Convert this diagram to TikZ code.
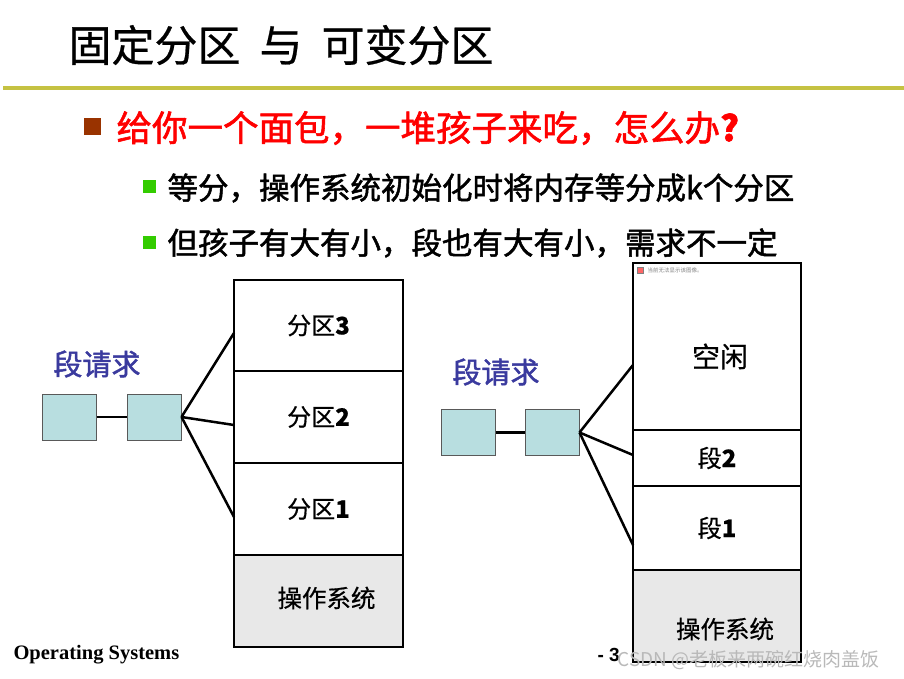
\documentclass[tikz,border=0pt]{standalone}
\usepackage{fontspec}
\setmainfont{Liberation Sans}
\newfontfamily\cjk{Noto Sans CJK SC}
\newfontfamily\cjkb[FakeBold=1.6]{Noto Sans CJK SC}
\newfontfamily\cjkm[FakeBold=0.6]{Noto Sans CJK SC}
\newfontfamily\footserif{Liberation Serif}
\usetikzlibrary{positioning, calc}
\definecolor{titleline}{RGB}{197,194,66}
\definecolor{reqfill}{RGB}{184,222,224}
\definecolor{reqblue}{RGB}{58,58,158}
\definecolor{osgray}{RGB}{232,232,232}
\definecolor{bulletbrown}{RGB}{153,51,0}
\definecolor{bulletgreen}{RGB}{51,204,0}
\tikzset{
  memrow/.style={draw, line width=2.5pt, minimum width=169pt, inner sep=0pt,
    outer sep=0pt, font=\cjkm\fontsize{24}{24}\selectfont},
  osrow/.style={memrow, fill=osgray},
  reqbox/.style={draw=gray!70!black, fill=reqfill, line width=1pt,
    minimum width=54pt, minimum height=46pt, inner sep=0pt},
  link/.style={line width=2.5pt},
}

\begin{document}
\begin{tikzpicture}[x=1pt, y=-1pt]
  \useasboundingbox (0,0) rectangle (904,679);
  % Title and rule
  \node[anchor=west, font=\cjkm\fontsize{43}{43}\selectfont] (title) at (65,45)
    {固定分区\hspace{19pt}与\hspace{19pt}可变分区};
  \draw[titleline, line width=4.5pt] (3,88) -- (904,88);
  % Bullets
  \node[fill=bulletbrown, minimum size=17pt, inner sep=0pt] (b1) at (92.5,126.5) {};
  \node[anchor=west, text=red, font=\cjkb\fontsize{35.5}{36}\selectfont]
    (t1) at (113,128) {给你一个面包，一堆孩子来吃，怎么办\textbf{?}};
  \node[fill=bulletgreen, minimum size=13pt, inner sep=0pt] (b2) at (149.5,186.5) {};
  \node[anchor=west, font=\cjkb\fontsize{30.5}{31}\selectfont]
    (t2) at (164,188) {等分，操作系统初始化时将内存等分成k个分区};
  \node[fill=bulletgreen, minimum size=13pt, inner sep=0pt] (b3) at (149.5,242) {};
  \node[anchor=west, font=\cjkb\fontsize{30.5}{31}\selectfont]
    (t3) at (164,243) {但孩子有大有小，段也有大有小，需求不一定};

  % Fixed partitions (left)
  \node[memrow, minimum height=91pt, anchor=north west] (p3) at (234,280) {分区\textbf{3}};
  \node[memrow, minimum height=92pt, below=0pt of p3] (p2) {分区\textbf{2}};
  \node[memrow, minimum height=92pt, below=0pt of p2] (p1) {分区\textbf{1}};
  \node[osrow, minimum height=92pt, below=0pt of p1] (os1) {};
  \node[font=\cjkm\fontsize{24.5}{25}\selectfont] at ($(os1.center)+(8,-3)$) {操作系统};
  \node[reqbox] (q1) at (69,417) {};
  \node[reqbox] (q2) at (154,417) {};
  \node[text=reqblue, font=\cjkb\fontsize{29}{29}\selectfont] (lq) at (97,364) {段请求};
  \draw[link] (q1) -- (q2);
  \draw[link] (q2.east) -- ([yshift=-7.5pt]p3.west);
  \draw[link] (q2.east) -- ([yshift=-8pt]p2.west);
  \draw[link] (q2.east) -- ([yshift=-8pt]p1.west);

  % Variable partitions (right)
  \node[memrow, minimum width=168pt, minimum height=167pt, anchor=north west] (free) at (633,263) {};
  \node[font=\cjkm\fontsize{28}{28}\selectfont] at ($(free.center)+(3,10)$) {空闲};
  \node[memrow, minimum width=168pt, minimum height=56pt, below=0pt of free] (s2) {段\textbf{2}};
  \node[memrow, minimum width=168pt, minimum height=84pt, below=0pt of s2] (s1) {段\textbf{1}};
  \node[osrow, minimum width=168pt, minimum height=92pt, below=0pt of s1] (os2) {};
  \node[font=\cjkm\fontsize{24.5}{25}\selectfont] at ($(os2.center)+(8,13)$) {操作系统};
  \node[draw=gray, fill=red!60, line width=0.8pt, minimum size=6pt, inner sep=0pt]
    (icon) at (640,270) {};
  \node[anchor=west, text=gray, font=\cjk\fontsize{5.5}{6}\selectfont]
    at (644,270) {当前无法显示该图像。};
  \node[reqbox] (r1) at (468,432.5) {};
  \node[reqbox] (r2) at (552,432.5) {};
  \node[text=reqblue, font=\cjkb\fontsize{29}{29}\selectfont] (lr) at (496,372) {段请求};
  \draw[link] (r1) -- (r2);
  \draw[link] (r2.east) -- ([yshift=-18.5pt]free.west);
  \draw[link] (r2.east) -- ([yshift=3pt]s2.west);
  \draw[link] (r2.east) -- ([yshift=-17pt]s1.west);

  % Footer
  \node[anchor=west, font=\footserif\bfseries\fontsize{20.5}{21}\selectfont]
    at (10,655) {Operating Systems};
  \node[anchor=west, font=\bfseries\fontsize{19}{19}\selectfont] at (594,655) {- 3};
  \node[anchor=west, text=gray!55, font=\cjk\fontsize{19}{19}\selectfont]
    at (614,660) {CSDN @老板来两碗红烧肉盖饭};
\end{tikzpicture}
\end{document}
